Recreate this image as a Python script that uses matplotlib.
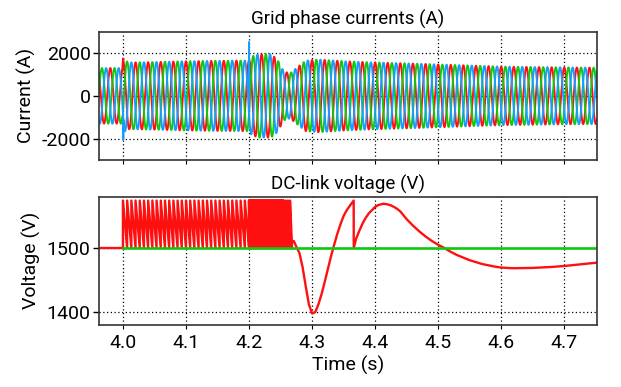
import numpy as np
import matplotlib
matplotlib.use("Agg")
import matplotlib.pyplot as plt

plt.rcParams["font.family"] = ["Roboto", "DejaVu Sans"]
plt.rcParams["font.size"] = 14
plt.rcParams["axes.unicode_minus"] = False

RED = "#ff1010"
GREEN = "#10c810"
BLUE = "#1a9cff"

# grid currents: 50 Hz three-phase, amplitude envelope
grid_freq = 50.0
env_time = [3.962, 3.999, 4.0, 4.01, 4.05, 4.1, 4.15, 4.199, 4.205, 4.215, 4.235,
            4.245, 4.255, 4.265, 4.275, 4.29, 4.31, 4.35, 4.4, 4.45, 4.5, 4.55,
            4.6, 4.65, 4.7, 4.75]
env_amp = [1300, 1300, 1700, 1560, 1580, 1620, 1640, 1650, 1850, 1950, 1950,
           1700, 1150, 1050, 1300, 1650, 1700, 1620, 1560, 1520, 1470, 1420,
           1370, 1350, 1330, 1320]
phase_names = ["red", "green", "blue"]
phase_shift_deg = [0, -120, 120]
spike_time = [4.0005, 4.0005, 4.2]
spike_phase = ["blue", "red", "blue"]
spike_value = [-2050, 1750, 2520]

# DC-link voltage
v_ref = 1500
v_clip = 1574
saw_segments = [(4.0, 4.2, 150), (4.2, 4.255, 900), (4.255, 4.266, 300)]
v_time = [4.266, 4.268, 4.271, 4.276, 4.28, 4.285, 4.29, 4.295, 4.30, 4.305,
          4.31, 4.315, 4.32, 4.325, 4.33, 4.335, 4.34, 4.345, 4.35, 4.355,
          4.36, 4.366, 4.3661, 4.37, 4.375, 4.38, 4.385, 4.39, 4.395, 4.40,
          4.405, 4.413, 4.42, 4.425, 4.43, 4.435, 4.44, 4.445, 4.45, 4.46,
          4.47, 4.48, 4.49, 4.50, 4.51, 4.52, 4.53, 4.54, 4.55, 4.56, 4.57,
          4.58, 4.59, 4.60, 4.62, 4.65, 4.68, 4.70, 4.72, 4.75]
v_value = [1500, 1508, 1511, 1500, 1492, 1470, 1440, 1412, 1398, 1400,
           1412, 1428, 1447, 1467, 1487, 1505, 1522, 1537, 1550, 1559,
           1566, 1574, 1500, 1515, 1527, 1538, 1547, 1554, 1559, 1564,
           1567, 1569, 1568, 1566.5, 1564, 1561, 1557, 1551, 1545, 1535,
           1526, 1518, 1511, 1505, 1500, 1494, 1489, 1485, 1481, 1478, 1475,
           1473, 1471, 1469.5, 1468.5, 1469, 1470.5, 1472, 1474, 1477]

t_start, t_end = 3.962, 4.752

fig = plt.figure(figsize=(6.21, 3.87), dpi=100)
ax1 = fig.add_axes([0.1594, 0.5866, 0.802, 0.3314])
ax2 = fig.add_axes([0.1594, 0.1602, 0.802, 0.3315])

t = np.arange(t_start, t_end, 1 / 20000)
amp = np.interp(t, env_time, env_amp)
colors = {"red": RED, "green": GREEN, "blue": BLUE}
for name, shift in zip(phase_names, phase_shift_deg):
    ts = t.copy()
    ys = amp * np.cos(2 * np.pi * grid_freq * t + np.deg2rad(shift))
    for st, sp, sv in zip(spike_time, spike_phase, spike_value):
        if sp == name:
            i = np.searchsorted(ts, st)
            ts = np.insert(ts, i, st)
            ys = np.insert(ys, i, sv)
    ax1.plot(ts, ys, color=colors[name], lw=1.4)

# sawtooth part of the dc-link voltage
vx = [t_start]
vy = [v_ref]
for start, stop, freq in saw_segments:
    for ts0 in np.arange(start, stop, 1 / freq):
        vx += [ts0, ts0, ts0 + 1 / freq]
        vy += [v_ref, v_clip, v_ref]
vx += v_time
vy += v_value
ax2.plot(vx, vy, color=RED, lw=1.7)
ax2.plot([4.0, t_end], [v_ref, v_ref], color=GREEN, lw=1.9)

ax1.set_xlim(t_start, t_end)
ax1.set_ylim(-3000, 3000)
ax1.set_yticks([-2000, 0, 2000])
ax1.set_xticks(np.arange(4.0, 4.75, 0.1))
ax1.tick_params(axis="x", labelbottom=False, length=0)
ax1.set_ylabel("Current (A)")
ax1.set_title("Grid phase currents (A)", fontsize=13.5, pad=5)

ax2.set_xlim(t_start, t_end)
ax2.set_ylim(1380, 1580)
ax2.set_yticks([1400, 1500])
ax2.set_xticks(np.arange(4.0, 4.75, 0.1))
ax2.set_xticklabels(["4.0", "4.1", "4.2", "4.3", "4.4", "4.5", "4.6", "4.7"])
ax2.set_ylabel("Voltage (V)")
ax2.set_xlabel("Time (s)", labelpad=3)
ax2.set_title("DC-link voltage (V)", fontsize=13.5, pad=5)

for ax in (ax1, ax2):
    ax.grid(True, color="black", linestyle=(0, (1, 2)), lw=0.9)
    ax.tick_params(axis="y", length=4, width=1, pad=2)
    ax.tick_params(axis="x", length=3)
    for s in ax.spines.values():
        s.set_color("#333333")
        s.set_linewidth(1.2)

fig.savefig("out.png", dpi=100)
